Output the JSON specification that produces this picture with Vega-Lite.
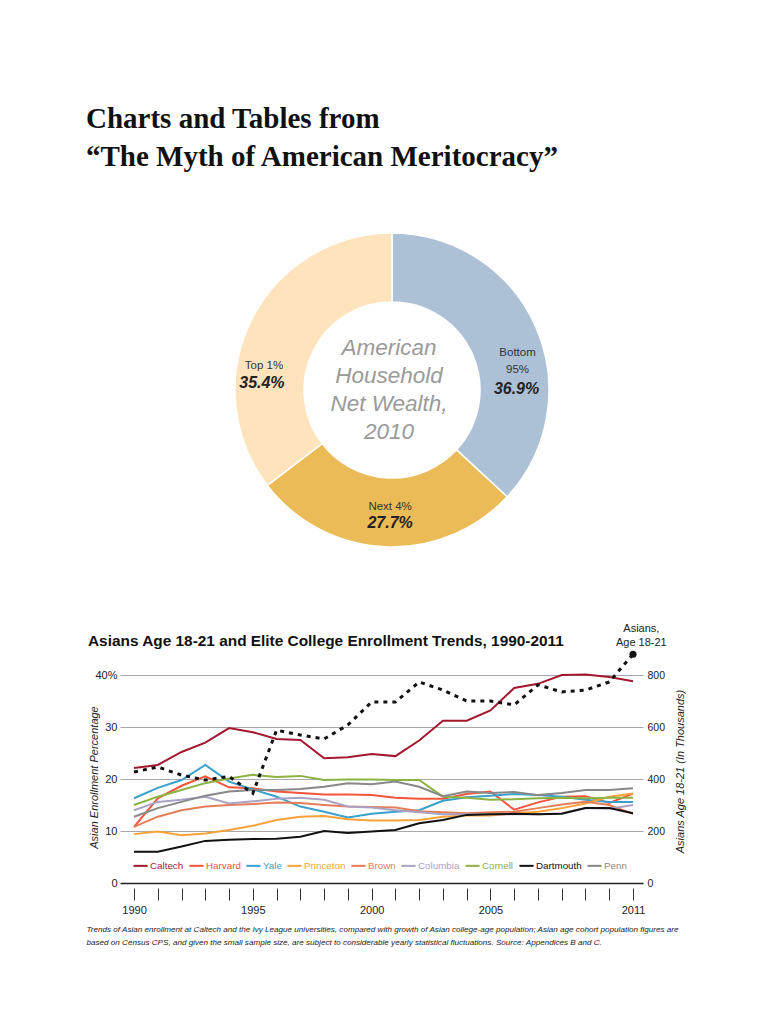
{
  "$schema": "https://vega.github.io/schema/vega-lite/v6.json",
  "background": "white",
  "padding": {"left": 86, "top": 105, "right": 10, "bottom": 10},
  "title": {
    "text": ["Charts and Tables from", "“The Myth of American Meritocracy”"],
    "anchor": "start",
    "font": "Liberation Serif",
    "fontSize": 29,
    "fontWeight": "bold",
    "lineHeight": 38,
    "color": "#111111",
    "offset": 53
  },
  "config": {
    "view": {"stroke": null},
    "font": "Liberation Sans",
    "axis": {"labelFont": "Liberation Sans", "titleFont": "Liberation Sans", "labelOverlap": false, "labelFlush": false},
    "legend": {"labelFont": "Liberation Sans"},
    "text": {"font": "Liberation Sans"}
  },
  "resolve": {"scale": {"color": "independent"}, "legend": {"color": "independent"}},
  "datasets": {
    "wealth": [
      {"seg": "Bottom 95%", "pct": 36.9, "pctLabel": "36.9%", "ord": 1},
      {"seg": "Next 4%", "pct": 27.7, "pctLabel": "27.7%", "ord": 2},
      {"seg": "Top 1%", "pct": 35.4, "pctLabel": "35.4%", "ord": 3}
    ],
    "center": [{"t": "American\nHousehold\nNet Wealth,\n2010"}],
    "trend": [
      {"year": 1990, "Caltech": 22.1, "Harvard": 10.8, "Yale": 16.3, "Princeton": 9.4, "Brown": 10.8, "Columbia": 14.0, "Cornell": 15.0, "Dartmouth": 6.0, "Penn": 12.75, "asians": 427},
      {"year": 1991, "Caltech": 22.7, "Harvard": 16.3, "Yale": 18.3, "Princeton": 9.9, "Brown": 12.75, "Columbia": 15.6, "Cornell": 16.6, "Dartmouth": 6.0, "Penn": 14.4, "asians": 446},
      {"year": 1992, "Caltech": 25.2, "Harvard": 18.7, "Yale": 19.8, "Princeton": 9.2, "Brown": 14.0, "Columbia": 16.0, "Cornell": 17.9, "Dartmouth": 7.0, "Penn": 15.6, "asians": 415},
      {"year": 1993, "Caltech": 27.0, "Harvard": 20.5, "Yale": 22.7, "Princeton": 9.5, "Brown": 14.7, "Columbia": 16.6, "Cornell": 19.2, "Dartmouth": 8.1, "Penn": 16.8, "asians": 396},
      {"year": 1994, "Caltech": 29.8, "Harvard": 18.4, "Yale": 19.5, "Princeton": 10.2, "Brown": 15.0, "Columbia": 15.3, "Cornell": 20.1, "Dartmouth": 8.3, "Penn": 17.6, "asians": 410},
      {"year": 1995, "Caltech": 29.0, "Harvard": 18.2, "Yale": 18.0, "Princeton": 11.0, "Brown": 15.2, "Columbia": 15.7, "Cornell": 20.8, "Dartmouth": 8.45, "Penn": 17.9, "asians": 345},
      {"year": 1996, "Caltech": 27.7, "Harvard": 17.6, "Yale": 16.6, "Princeton": 12.1, "Brown": 15.5, "Columbia": 16.2, "Cornell": 20.4, "Dartmouth": 8.5, "Penn": 17.9, "asians": 588},
      {"year": 1997, "Caltech": 27.5, "Harvard": 17.3, "Yale": 14.7, "Princeton": 12.75, "Brown": 15.4, "Columbia": 16.4, "Cornell": 20.6, "Dartmouth": 8.9, "Penn": 18.1, "asians": 569},
      {"year": 1998, "Caltech": 24.0, "Harvard": 17.0, "Yale": 13.7, "Princeton": 12.9, "Brown": 15.0, "Columbia": 16.0, "Cornell": 19.8, "Dartmouth": 10.0, "Penn": 18.5, "asians": 554},
      {"year": 1999, "Caltech": 24.2, "Harvard": 17.0, "Yale": 12.6, "Princeton": 12.25, "Brown": 14.7, "Columbia": 14.7, "Cornell": 19.9, "Dartmouth": 9.6, "Penn": 19.2, "asians": 608},
      {"year": 2000, "Caltech": 24.8, "Harvard": 16.9, "Yale": 13.3, "Princeton": 12.0, "Brown": 14.6, "Columbia": 14.5, "Cornell": 19.9, "Dartmouth": 9.9, "Penn": 19.0, "asians": 696},
      {"year": 2001, "Caltech": 24.4, "Harvard": 16.4, "Yale": 13.7, "Princeton": 12.0, "Brown": 14.5, "Columbia": 14.0, "Cornell": 19.8, "Dartmouth": 10.2, "Penn": 19.5, "asians": 696},
      {"year": 2002, "Caltech": 27.4, "Harvard": 16.2, "Yale": 14.0, "Princeton": 12.1, "Brown": 13.8, "Columbia": 13.6, "Cornell": 19.8, "Dartmouth": 11.5, "Penn": 18.5, "asians": 773},
      {"year": 2003, "Caltech": 31.2, "Harvard": 16.2, "Yale": 15.8, "Princeton": 12.75, "Brown": 13.6, "Columbia": 13.2, "Cornell": 16.6, "Dartmouth": 12.1, "Penn": 16.7, "asians": 742},
      {"year": 2004, "Caltech": 31.2, "Harvard": 17.1, "Yale": 16.5, "Princeton": 13.0, "Brown": 13.4, "Columbia": 13.2, "Cornell": 16.4, "Dartmouth": 13.1, "Penn": 17.6, "asians": 700},
      {"year": 2005, "Caltech": 33.2, "Harvard": 17.6, "Yale": 16.8, "Princeton": 13.0, "Brown": 13.6, "Columbia": 13.2, "Cornell": 16.0, "Dartmouth": 13.2, "Penn": 17.3, "asians": 700},
      {"year": 2006, "Caltech": 37.5, "Harvard": 14.1, "Yale": 17.1, "Princeton": 13.4, "Brown": 13.7, "Columbia": 13.2, "Cornell": 16.1, "Dartmouth": 13.3, "Penn": 17.5, "asians": 685},
      {"year": 2007, "Caltech": 38.3, "Harvard": 15.5, "Yale": 16.9, "Princeton": 13.7, "Brown": 14.4, "Columbia": 13.2, "Cornell": 16.3, "Dartmouth": 13.2, "Penn": 16.9, "asians": 762},
      {"year": 2008, "Caltech": 40.0, "Harvard": 16.6, "Yale": 16.6, "Princeton": 14.4, "Brown": 15.1, "Columbia": 13.4, "Cornell": 16.4, "Dartmouth": 13.3, "Penn": 17.3, "asians": 735},
      {"year": 2009, "Caltech": 40.1, "Harvard": 16.7, "Yale": 16.0, "Princeton": 15.3, "Brown": 15.6, "Columbia": 14.4, "Cornell": 16.3, "Dartmouth": 14.4, "Penn": 17.9, "asians": 742},
      {"year": 2010, "Caltech": 39.6, "Harvard": 15.4, "Yale": 15.6, "Princeton": 16.6, "Brown": 15.0, "Columbia": 14.3, "Cornell": 16.4, "Dartmouth": 14.4, "Penn": 17.9, "asians": 773},
      {"year": 2011, "Caltech": 38.8, "Harvard": 17.2, "Yale": 15.6, "Princeton": 17.2, "Brown": 13.3, "Columbia": 15.0, "Cornell": 16.4, "Dartmouth": 13.4, "Penn": 18.2, "asians": 880}
    ],
    "annot": [{"year": 2011.35, "asians": 977, "label": "Asians,\nAge 18-21"}]
  },
  "spacing": 50,
  "vconcat": [
    {
      "width": 544,
      "height": 330,
      "layer": [
        {
          "data": {"name": "wealth"},
          "encoding": {
            "theta": {"field": "pct", "type": "quantitative", "stack": true},
            "order": {"field": "ord", "type": "quantitative"},
            "detail": {"field": "seg", "type": "nominal"}
          },
          "layer": [
            {
              "mark": {"type": "arc", "innerRadius": 88, "outerRadius": 157, "stroke": "white", "strokeWidth": 1.5},
              "encoding": {
                "color": {
                  "field": "seg", "type": "nominal",
                  "scale": {"domain": ["Bottom 95%", "Next 4%", "Top 1%"], "range": ["#adc1d6", "#ebbb57", "#fee3bd"]},
                  "legend": null
                }
              }
            },
            {
              "mark": {"type": "text", "radius": 125, "dx": 11, "dy": 13, "fontSize": 11.5, "lineBreak": " ", "lineHeight": 17, "color": "#333333"},
              "encoding": {"text": {"condition": {"test": "datum.seg === 'Bottom 95%'", "field": "seg", "type": "nominal"}, "value": ""}}
            },
            {
              "mark": {"type": "text", "radius": 125, "dx": 10, "dy": 49, "fontSize": 16, "fontWeight": "bold", "fontStyle": "italic", "color": "#222222"},
              "encoding": {"text": {"condition": {"test": "datum.seg === 'Bottom 95%'", "field": "pctLabel", "type": "nominal"}, "value": ""}}
            },
            {
              "mark": {"type": "text", "radius": 125, "dx": -16, "dy": 31, "fontSize": 11.5, "color": "#333333"},
              "encoding": {"text": {"condition": {"test": "datum.seg === 'Top 1%'", "field": "seg", "type": "nominal"}, "value": ""}}
            },
            {
              "mark": {"type": "text", "radius": 125, "dx": -18, "dy": 48, "fontSize": 16, "fontWeight": "bold", "fontStyle": "italic", "color": "#222222"},
              "encoding": {"text": {"condition": {"test": "datum.seg === 'Top 1%'", "field": "pctLabel", "type": "nominal"}, "value": ""}}
            },
            {
              "mark": {"type": "text", "radius": 125, "dx": 4, "dy": -8, "fontSize": 11.5, "color": "#333333"},
              "encoding": {"text": {"condition": {"test": "datum.seg === 'Next 4%'", "field": "seg", "type": "nominal"}, "value": ""}}
            },
            {
              "mark": {"type": "text", "radius": 125, "dx": 4, "dy": 8, "fontSize": 16, "fontWeight": "bold", "fontStyle": "italic", "color": "#222222"},
              "encoding": {"text": {"condition": {"test": "datum.seg === 'Next 4%'", "field": "pctLabel", "type": "nominal"}, "value": ""}}
            }
          ]
        },
        {
          "data": {"name": "center"},
          "mark": {"type": "text", "fontSize": 22.5, "fontStyle": "italic", "color": "#9a9a9a", "lineBreak": "\n", "lineHeight": 28, "align": "center", "baseline": "middle", "dx": -3, "dy": -42},
          "encoding": {"text": {"field": "t", "type": "nominal"}}
        }
      ]
    },
    {
      "width": 523,
      "height": 208,
      "title": {
        "text": "Asians Age 18-21 and Elite College Enrollment Trends, 1990-2011",
        "frame": "group",
        "anchor": "start",
        "dx": -32,
        "offset": -38,
        "baseline": "alphabetic",
        "font": "Liberation Sans",
        "fontSize": 15.4,
        "fontWeight": "bold",
        "color": "#111111"
      },
      "data": {"name": "trend"},
      "encoding": {
        "x": {
          "field": "year", "type": "quantitative",
          "scale": {"domain": [1989.41, 2011.42], "nice": false, "zero": false},
          "axis": {
            "values": [1990, 1991, 1992, 1993, 1994, 1995, 1996, 1997, 1998, 1999, 2000, 2001, 2002, 2003, 2004, 2005, 2006, 2007, 2008, 2009, 2010, 2011],
            "labelExpr": "indexof([1990, 1995, 2000, 2005, 2011], datum.value) >= 0 ? '' + datum.value : ''",
            "domain": false, "grid": false,
            "ticks": true, "tickSize": 12, "tickColor": "#333333", "tickWidth": 1,
            "offset": 5, "labelPadding": 4, "labelFontSize": 11, "labelColor": "#222222",
            "title": [
              "Trends of Asian enrollment at Caltech and the Ivy League universities, compared with growth of Asian college-age population; Asian age cohort population figures are",
              "based on Census CPS, and given the small sample size, are subject to considerable yearly statistical fluctuations. Source: Appendices B and C."
            ],
            "titleFontSize": 8.1, "titleFontStyle": "italic", "titleFontWeight": "normal", "titleColor": "#222222",
            "titleX": -34, "titleY": 43, "titleAlign": "left", "titleAnchor": "start", "titleBaseline": "alphabetic", "titleLineHeight": 13
          }
        }
      },
      "layer": [
        {
          "transform": [{"fold": ["Caltech", "Harvard", "Yale", "Princeton", "Brown", "Columbia", "Cornell", "Dartmouth", "Penn"], "as": ["school", "pct"]}],
          "mark": {"type": "line", "strokeWidth": 2},
          "encoding": {
            "y": {
              "field": "pct", "type": "quantitative",
              "scale": {"domain": [0, 40], "nice": false},
              "axis": {
                "values": [0, 10, 20, 30, 40],
                "labelExpr": "datum.value == 40 ? '40%' : datum.label",
                "domain": false, "ticks": false, "tickSize": 0, "labelPadding": 3,
                "labelFontSize": 11, "labelColor": "#222222",
                "grid": true,
                "gridColor": {"condition": {"test": "datum.value === 0", "value": "#222222"}, "value": "#a8a8a8"},
                "gridWidth": {"condition": {"test": "datum.value === 0", "value": 1.3}, "value": 1},
                "title": "Asian Enrollment Percentage",
                "titleFontSize": 11, "titleFontStyle": "italic", "titleFontWeight": "normal", "titleColor": "#222222",
                "titleX": -23, "titleY": 102, "titleAngle": -90, "titleAlign": "center", "titleBaseline": "alphabetic"
              }
            },
            "color": {
              "field": "school", "type": "nominal",
              "scale": {
                "domain": ["Caltech", "Harvard", "Yale", "Princeton", "Brown", "Columbia", "Cornell", "Dartmouth", "Penn"],
                "range": ["#a3172f", "#f4553b", "#3aa0cc", "#f9a23a", "#e57d58", "#aaa2c4", "#8cb244", "#111111", "#888888"]
              },
              "legend": {
                "orient": "none", "legendX": 12, "legendY": 182, "direction": "horizontal", "title": null,
                "symbolType": "stroke", "symbolStrokeWidth": 2, "symbolSize": 200,
                "labelFontSize": 9.8, "labelOffset": 1, "columnPadding": 1,
                "encode": {
                  "labels": {
                    "update": {
                      "fill": {"signal": "datum.label === 'Caltech' ? '#a3172f' : datum.label === 'Harvard' ? '#f4553b' : datum.label === 'Yale' ? '#3aa0cc' : datum.label === 'Princeton' ? '#f9a23a' : datum.label === 'Brown' ? '#e57d58' : datum.label === 'Columbia' ? '#aaa2c4' : datum.label === 'Cornell' ? '#8cb244' : datum.label === 'Dartmouth' ? '#111111' : '#888888'"}
                    }
                  }
                }
              }
            }
          }
        },
        {
          "encoding": {
            "y": {
              "field": "asians", "type": "quantitative",
              "scale": {"domain": [0, 800], "nice": false},
              "axis": {
                "orient": "right",
                "values": [0, 200, 400, 600, 800],
                "domain": false, "ticks": false, "tickSize": 0, "grid": false,
                "labelPadding": 4, "labelFontSize": 10.5, "labelColor": "#222222",
                "title": "Asians Age 18-21 (In Thousands)",
                "titleFontSize": 11, "titleFontStyle": "italic", "titleFontWeight": "normal", "titleColor": "#222222",
                "titleX": 40, "titleY": 96, "titleAngle": -90, "titleAlign": "center", "titleBaseline": "alphabetic"
              }
            }
          },
          "layer": [
            {"mark": {"type": "line", "color": "#111111", "strokeWidth": 3, "strokeDash": [4, 5]}},
            {"transform": [{"filter": "datum.year == 2011"}], "mark": {"type": "circle", "color": "#111111", "size": 50, "opacity": 1}},
            {
              "data": {"name": "annot"},
              "mark": {"type": "text", "fontSize": 11, "lineBreak": "\n", "lineHeight": 14, "align": "center", "baseline": "middle", "color": "#222222"},
              "encoding": {"text": {"field": "label", "type": "nominal"}}
            }
          ]
        }
      ],
      "resolve": {"scale": {"y": "independent"}, "axis": {"y": "independent"}}
    }
  ]
}
